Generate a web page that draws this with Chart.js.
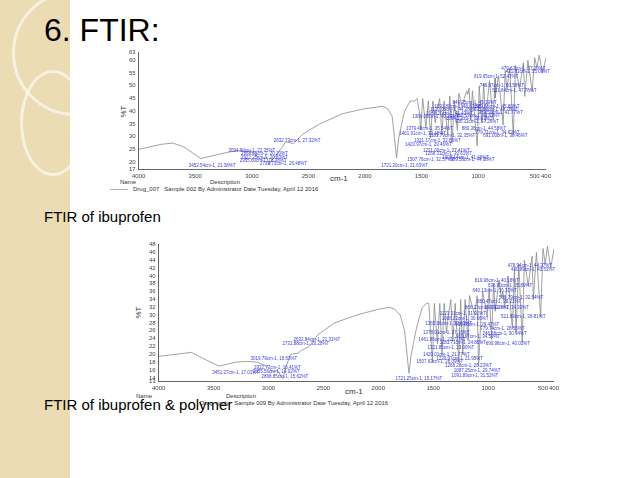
<!DOCTYPE html>
<html>
<head>
<meta charset="utf-8">
<script src="https://cdn.jsdelivr.net/npm/chart.js@4/dist/chart.umd.min.js"></script>
<style>
  body { margin: 0; width: 638px; height: 478px; background: #fff; position: relative; overflow: hidden; font-family: "Liberation Sans", Arial, sans-serif; }
  #side { position: absolute; left: 0; top: 0; width: 70px; height: 478px; background: #ecdcb4; overflow: hidden; }
  #side div { position: absolute; border-radius: 50%; border: 3px solid rgba(255,255,255,0.6); }
  .txt { position: absolute; white-space: nowrap; color: #000; }
  .small { position: absolute; white-space: nowrap; color: #333; font-size: 6px; }
  canvas { position: absolute; }
</style>
</head>
<body>
<div id="side">
  <div style="left:12px;top:-10px;width:120px;height:120px;"></div>
  <div style="left:20px;top:70px;width:60px;height:100px;"></div>
</div>
<div class="txt" style="left:44px;top:12px;font-size:32px;">6. FTIR:</div>
<div class="txt" style="left:44px;top:208px;font-size:15px;">FTIR of ibuprofen</div>
<div class="txt" style="left:44px;top:396px;font-size:15px;">FTIR of ibuprofen &amp; polymer</div>

<div class="small" style="left:117px;top:107px;font-size:8px;transform:rotate(-90deg);">%T</div>
<div class="small" style="left:330px;top:174px;font-size:8px;">cm-1</div>
<div class="small" style="left:120px;top:179px;">Name</div>
<div class="small" style="left:210px;top:179px;">Description</div>
<div class="small" style="left:110px;top:186px;">———&nbsp;&nbsp;&nbsp;Drug_007&nbsp;&nbsp;&nbsp;Sample 002 By Administrator Date Tuesday, April 12 2016</div>

<div class="small" style="left:132px;top:308px;font-size:8px;transform:rotate(-90deg);">%T</div>
<div class="small" style="left:345px;top:387px;font-size:8px;">cm-1</div>
<div class="small" style="left:136px;top:393px;">Name</div>
<div class="small" style="left:226px;top:393px;">Description</div>
<div class="small" style="left:200px;top:400px;">Drug +poly&nbsp;&nbsp;&nbsp;Sample 009 By Administrator Date Tuesday, April 12 2016</div>

<canvas id="top"></canvas>
<canvas id="bottom"></canvas>

<script>
"use strict";
// spectrum 1: ibuprofen (wavenumber cm-1, %T)
const wn1 = [4000, 3800, 3700, 3600, 3452, 3350, 3200, 3100, 3000, 2955, 2922, 2868, 2850, 2800, 2729, 2700, 2632, 2550, 2400, 2200, 2000, 1900, 1850, 1800, 1760, 1740, 1721, 1700, 1650, 1600, 1560, 1540, 1520, 1507, 1490, 1462, 1440, 1420, 1400, 1379, 1366, 1340, 1321, 1300, 1268, 1250, 1231, 1210, 1183, 1170, 1140, 1123, 1100, 1091, 1080, 1064, 1050, 1008, 990, 969, 950, 935, 900, 866, 850, 849, 820, 779, 760, 746, 720, 689, 670, 635, 600, 588, 560, 522, 500, 480, 460, 430, 400];
const t1 = [25, 27, 27.5, 26, 21.4, 22.5, 24, 24.5, 24, 22.5, 21, 22, 19, 22, 26, 28, 27.3, 31, 35, 39, 41, 41.5, 42, 41, 38, 30, 21.6, 30, 40, 44, 44, 45, 40, 32.6, 45, 33.5, 44, 29.5, 44, 35.5, 40, 45, 31, 44, 30.6, 46, 27.4, 44, 32.4, 47, 41.4, 45, 48, 46.6, 49, 37, 48, 26.4, 50, 35.5, 51, 36, 52, 36.7, 53, 45.2, 54, 34.6, 56, 48.5, 57, 30.5, 58, 48.8, 59, 45.8, 60, 47.8, 61, 57, 62, 55, 61];
const yTicks1 = [17, 20, 25, 30, 35, 40, 45, 50, 55, 60, 63];

// spectrum 2: ibuprofen + polymer
const wn2 = [4000, 3700, 3600, 3451, 3300, 3200, 3100, 3019, 2955, 2922, 2868, 2850, 2800, 2731, 2700, 2632, 2550, 2400, 2200, 2000, 1900, 1850, 1800, 1760, 1721, 1700, 1650, 1600, 1560, 1540, 1507, 1490, 1462, 1440, 1420, 1400, 1379, 1366, 1340, 1321, 1300, 1268, 1250, 1231, 1210, 1183, 1170, 1123, 1100, 1087, 1064, 1050, 1008, 990, 969, 950, 935, 900, 880, 866, 849, 820, 779, 760, 746, 720, 689, 670, 635, 600, 588, 560, 522, 500, 480, 460, 430, 400];
const t2 = [19.5, 20.5, 19, 17, 18, 18.2, 18, 17, 15.5, 16, 13.8, 16, 20, 20.3, 21, 22, 25, 28, 30, 31.5, 32, 31.5, 30, 26, 15.2, 20, 27, 32, 33, 33, 18, 33, 22.7, 33, 19.8, 33, 25.5, 28.9, 34, 23.3, 33, 18, 34, 19.9, 34, 23.5, 35, 30, 35, 17, 30, 36, 29.8, 37, 23.8, 38, 31, 39, 34.5, 36, 32, 40, 26.5, 42, 25.5, 43, 23, 44, 37.5, 45, 34, 46, 29.5, 47, 43, 47.5, 42, 47];
const yTicks2 = [13, 14, 16, 18, 20, 22, 24, 26, 28, 30, 32, 34, 36, 38, 40, 42, 44, 46, 48];

const xTicks = [4000, 3500, 3000, 2500, 2000, 1500, 1000, 500, 400];

// peak labels: [wavenumber, %T where text sits, text]
const peaks1 = [
  [3350, 18.5, "3452.54cm-1, 21.38%T"], [3000, 24.3, "3094.90cm-1, 22.35%T"], [2890, 23.1, "2868.89cm-1, 20.20%T"],
  [2890, 21.8, "2922.25cm-1, 20.83%T"], [2900, 20.6, "2955.60cm-1, 18.38%T"], [2720, 19.2, "2729.73cm-1, 26.48%T"],
  [2600, 28.5, "2632.73cm-1, 27.32%T"], [1650, 18.7, "1721.20cm-1, 21.63%T"], [1420, 20.8, "1507.76cm-1, 32.57%T"],
  [1490, 31, "1461.91cm-1, 33.48%T"], [1430, 33, "1379.48cm-1, 35.54%T"], [1440, 27, "1420.97cm-1, 29.46%T"],
  [1360, 28.3, "1321.17cm-1, 32.80%T"], [1280, 24.6, "1231.00cm-1, 27.41%T"], [1260, 23.2, "1268.31cm-1, 30.61%T"],
  [1110, 21.9, "1008.14cm-1, 41.40%T"], [1050, 20.8, "989.58cm-1, 44.38%T"], [1230, 30.3, "1183.79cm-1, 32.35%T"],
  [1375, 37.7, "1366.08cm-1, 40.24%T"], [1250, 39, "1168.20cm-1, 41.42%T"], [1220, 40.4, "1123.06cm-1, 44.28%T"],
  [1180, 41.6, "1091.80cm-1, 46.63%T"], [1080, 37, "1064.23cm-1, 36.47%T"], [1010, 35.7, "936.11cm-1, 37.26%T"],
  [950, 33, "880.36cm-1, 44.58%T"], [830, 31.5, "779.71cm-1, 34.63%T"], [760, 30.3, "691.00cm-1, 30.46%T"],
  [1030, 43.4, "849.25cm-1, 45.19%T"], [830, 41.6, "589.66cm-1, 45.80%T"], [840, 40.4, "635.80cm-1, 48.78%T"],
  [800, 39.2, "959.50cm-1, 41.77%T"], [1000, 38.4, "966.53cm-1, 40.83%T"], [790, 49.8, "746.97cm-1, 50.58%T"],
  [680, 48, "521.84cm-1, 47.78%T"], [840, 53.5, "819.65cm-1, 52.47%T"], [600, 56.8, "479.63cm-1, 57.20%T"],
  [560, 55.5, "421.81cm-1, 55.06%T"]
];
const peaks2 = [
  [3300, 15.2, "3451.27cm-1, 17.01%T"], [2950, 18.8, "3019.79cm-1, 16.63%T"], [2920, 16.7, "2922.77cm-1, 16.41%T"],
  [2930, 15.6, "2955.56cm-1, 14.02%T"], [2850, 14.4, "2868.85cm-1, 15.62%T"], [2560, 23.6, "2632.84cm-1, 21.31%T"],
  [2660, 22.6, "2731.88cm-1, 20.28%T"], [1630, 13.8, "1721.25cm-1, 15.17%T"], [1440, 18.2, "1507.63cm-1, 26.09%T"],
  [1380, 25.4, "1378.91cm-1, 27.16%T"], [1420, 23.8, "1461.86cm-1, 22.72%T"], [1360, 27.8, "1365.96cm-1, 30.03%T"],
  [1380, 20, "1420.01cm-1, 21.77%T"], [1340, 21.6, "1321.85cm-1, 23.00%T"], [1260, 18.8, "1230.97cm-1, 21.95%T"],
  [1180, 17, "1268.28cm-1, 26.23%T"], [1100, 15.8, "1087.25cm-1, 29.74%T"], [1120, 14.6, "1091.89cm-1, 31.52%T"],
  [1230, 22.9, "1183.71cm-1, 24.85%T"], [1090, 24.4, "969.67cm-1, 34.59%T"], [1230, 30.4, "1123.31cm-1, 31.92%T"],
  [1210, 29, "1008.22cm-1, 30.66%T"], [1100, 27.6, "936.06cm-1, 29.47%T"], [870, 26.6, "779.74cm-1, 28.55%T"],
  [850, 25.2, "746.66cm-1, 30.94%T"], [820, 22.6, "690.98cm-1, 40.02%T"], [1010, 31.8, "866.23cm-1, 33.27%T"],
  [900, 33.3, "880.47cm-1, 38.21%T"], [830, 32, "849.92cm-1, 34.30%T"], [680, 29.6, "521.89cm-1, 38.81%T"],
  [700, 34.4, "588.79cm-1, 32.54%T"], [940, 36.1, "640.13cm-1, 36.33%T"], [800, 37.5, "636.80cm-1, 35.89%T"],
  [920, 38.8, "819.96cm-1, 40.18%T"], [620, 42.7, "478.94cm-1, 44.37%T"], [590, 41.5, "430.89cm-1, 43.53%T"]
];

const peakLabels = {
  id: "peakLabels",
  afterDatasetsDraw(chart, args, opts) {
    const { ctx, scales } = chart;
    ctx.save();
    ctx.font = "4.5px 'Liberation Sans'";
    ctx.fillStyle = "#3a3ae0";
    ctx.textAlign = "center";
    ctx.textBaseline = "middle";
    opts.list.forEach(([w, t, s]) => {
      ctx.fillText(s, scales.x.getPixelForValue(w), scales.y.getPixelForValue(t));
    });
    ctx.restore();
  }
};

function spectrum(id, box, wn, t, yTicks, peaks) {
  const canvas = document.getElementById(id);
  canvas.style.left = box[0] + "px";
  canvas.style.top = box[1] + "px";
  canvas.width = box[2];
  canvas.height = box[3];
  const points = wn.map((w, i) => ({ x: w, y: t[i] }));
  return new Chart(canvas, {
    type: "line",
    data: { datasets: [{ data: points, borderColor: "#8a8a8a", borderWidth: 0.8, pointRadius: 0, tension: 0 }] },
    options: {
      responsive: false,
      animation: false,
      events: [],
      layout: { padding: { right: 6, top: 2 } },
      plugins: { legend: { display: false }, tooltip: { enabled: false }, peakLabels: { list: peaks } },
      scales: {
        x: {
          type: "linear", reverse: true, min: 400, max: 4000,
          afterBuildTicks: (axis) => { axis.ticks = xTicks.map((v) => ({ value: v })); },
          grid: { display: false, drawTicks: true, tickLength: 2 },
          border: { color: "#666" },
          ticks: { font: { size: 6 }, color: "#444", padding: 1, autoSkip: false, maxRotation: 0, callback: (v) => String(v) }
        },
        y: {
          min: yTicks[0], max: yTicks[yTicks.length - 1],
          afterBuildTicks: (axis) => { axis.ticks = yTicks.map((v) => ({ value: v })); },
          grid: { display: false, drawTicks: true, tickLength: 2 },
          border: { color: "#666" },
          ticks: { font: { size: 6 }, color: "#444", padding: 1, autoSkip: false }
        }
      }
    },
    plugins: [peakLabels]
  });
}

spectrum("top", [128, 48, 424, 133], wn1, t1, yTicks1, peaks1);
spectrum("bottom", [148, 240, 412, 153], wn2, t2, yTicks2, peaks2);
</script>
</body>
</html>
